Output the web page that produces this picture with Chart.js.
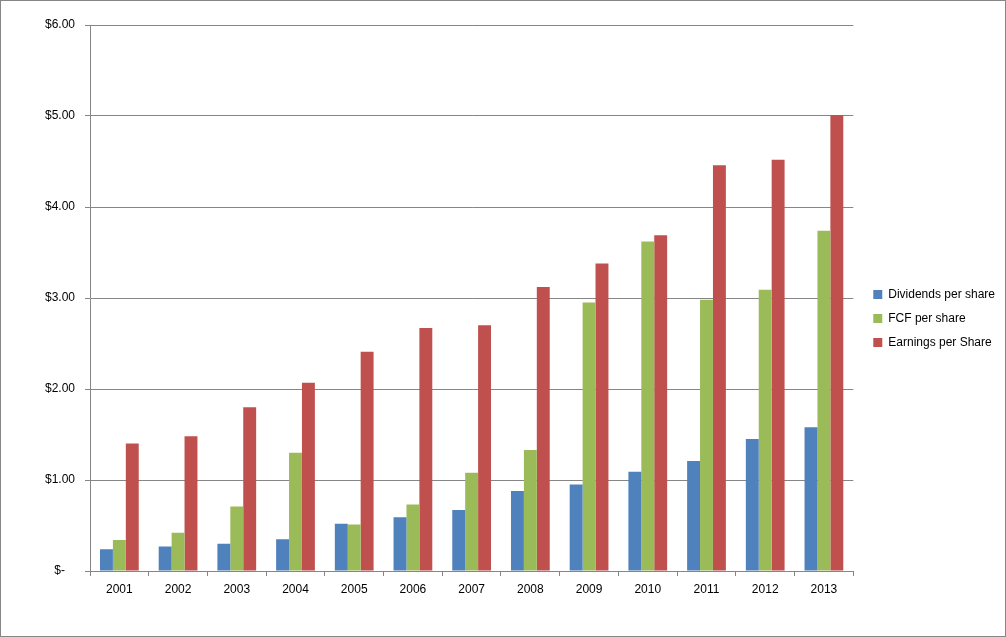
<!DOCTYPE html>
<html>
<head>
<meta charset="utf-8">
<script src="https://cdn.jsdelivr.net/npm/chart.js@4/dist/chart.umd.min.js"></script>
<style>
    html, body { margin: 0; padding: 0; background: #fff; }
    .chart-wrap { position: relative; width: 1006px; height: 637px; box-sizing: border-box; border: 1px solid #868686; }
</style>
</head>
<body>
<div class="chart-wrap"><canvas id="epsChart"></canvas></div>
<script>
const years = ['2001', '2002', '2003', '2004', '2005', '2006', '2007', '2008', '2009', '2010', '2011', '2012', '2013'];
const dividends = [0.24, 0.27, 0.30, 0.35, 0.52, 0.59, 0.67, 0.88, 0.95, 1.09, 1.21, 1.45, 1.58];
const fcf = [0.34, 0.42, 0.71, 1.30, 0.51, 0.73, 1.08, 1.33, 2.95, 3.62, 2.98, 3.09, 3.74];
const earnings = [1.40, 1.48, 1.80, 2.07, 2.41, 2.67, 2.70, 3.12, 3.38, 3.69, 4.46, 4.52, 5.01];

const axisGrey = '#868686';
const font = { family: 'Liberation Sans, Arial, sans-serif', size: 12 };

// push the legend a bit away from the plot, like the excel original
const legendNudge = {
    id: 'legendNudge',
    afterLayout: (chart) => {
        if (!chart.legend) return;
        chart.legend.left += 8;
        chart.legend.right += 8;
    }
};

new Chart(document.getElementById('epsChart'), {
    type: 'bar',
    data: {
        labels: years,
        datasets: [
            { label: 'Dividends per share', data: dividends, backgroundColor: '#4F81BD' },
            { label: 'FCF per share', data: fcf, backgroundColor: '#9BBB59' },
            { label: 'Earnings per Share', data: earnings, backgroundColor: '#C0504D' }
        ]
    },
    plugins: [legendNudge],
    options: {
        responsive: true,
        maintainAspectRatio: false,
        animation: false,
        layout: { padding: { top: 24, right: 8, bottom: 24, left: 0 } },
        datasets: { bar: { categoryPercentage: 0.66, barPercentage: 1.0 } },
        plugins: {
            tooltip: { enabled: false },
            legend: {
                position: 'right',
                labels: { color: '#000', font, boxWidth: 9, boxHeight: 9, padding: 12 }
            }
        },
        scales: {
            x: {
                afterFit: (s) => { s.height = 41; },
                grid: { display: true, drawOnChartArea: false, offset: true, color: axisGrey, tickLength: 5 },
                border: { color: axisGrey },
                ticks: { color: '#000', font, padding: 6 }
            },
            y: {
                min: 0, max: 6,
                afterFit: (s) => { s.width = 89; },
                grid: { color: axisGrey, tickLength: 5 },
                border: { color: axisGrey },
                ticks: {
                    stepSize: 1, color: '#000', font, padding: 10,
                    callback: (v) => v === 0 ? '$-   ' : '$' + v.toFixed(2)
                }
            }
        }
    }
});
</script>
</body>
</html>
